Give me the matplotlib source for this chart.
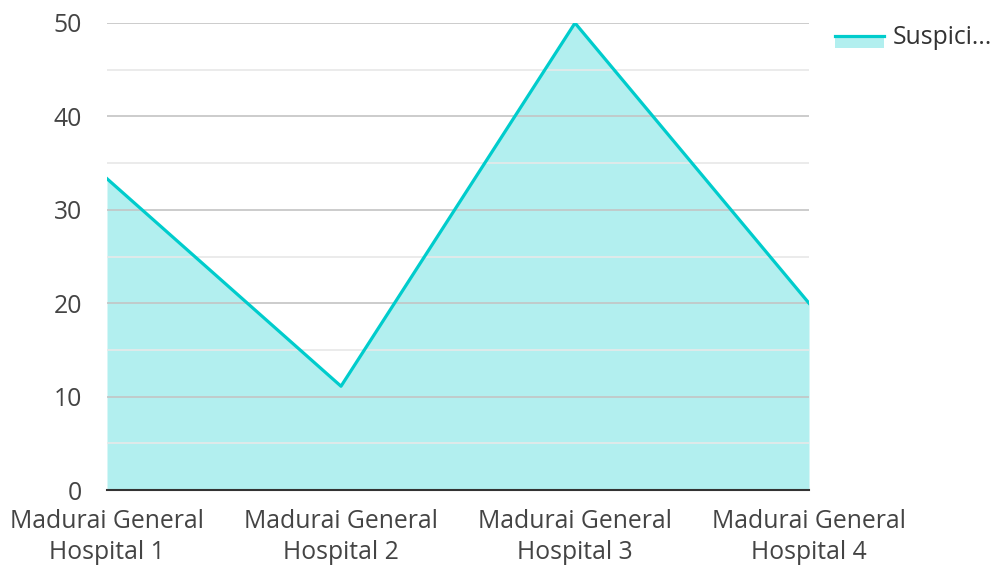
import matplotlib
matplotlib.use("Agg")
import matplotlib.pyplot as plt
from matplotlib.lines import Line2D
from matplotlib.patches import Rectangle

hospitals = ["Madurai General\nHospital 1", "Madurai General\nHospital 2",
             "Madurai General\nHospital 3", "Madurai General\nHospital 4"]
suspicious = [33.33, 11.11, 50.0, 20.0]
legend_label = "Suspici..."

plt.rcParams['font.family'] = ['Open Sans', 'DejaVu Sans']

line_col = '#00cccc'
fill_col = '#b2efef'

fig = plt.figure(figsize=(9.95, 5.66), dpi=100)
ax = fig.add_axes([107/995, 1-490/566, (809-107)/995, (490-23)/566])

x = list(range(len(hospitals)))
ax.fill_between(x, suspicious, 0, color=fill_col, linewidth=0, zorder=1)
ax.plot(x, suspicious, color=line_col, linewidth=2.3, zorder=3)

ax.set_xlim(0, len(hospitals) - 1)
ax.set_ylim(0, 50)
ax.set_yticks(range(0, 51, 10))
ax.set_yticks(range(5, 50, 10), minor=True)
ax.set_xticks(x)
ax.set_xticklabels(hospitals, linespacing=1.3)

ax.grid(axis='y', which='major', color='#c4c4c4', linewidth=1.2, zorder=2)
ax.grid(axis='y', which='minor', color='#e8e8e8', linewidth=1.2, zorder=2)
ax.set_axisbelow(False)

for s in ['top', 'right', 'left']:
    ax.spines[s].set_visible(False)
ax.spines['bottom'].set_color('#333333')
ax.spines['bottom'].set_linewidth(1.5)
ax.spines['bottom'].set_zorder(4)

ax.tick_params(axis='both', which='both', length=0, labelsize=17.8, colors='#444444')
ax.tick_params(axis='y', pad=18)
ax.tick_params(axis='x', pad=14)

# legend drawn by hand, top right
fig.add_artist(Rectangle((835/995, 1-48/566), 49/995, 13/566,
                         transform=fig.transFigure, color=fill_col, lw=0))
fig.add_artist(Line2D([835/995, 884/995], [1-36/566, 1-36/566],
                      transform=fig.transFigure, color=line_col, lw=2.3))
fig.text(893/995, 1-37/566, legend_label, fontsize=17.8, color='#333333',
         va='center', ha='left')

fig.savefig("out.png", dpi=100)
